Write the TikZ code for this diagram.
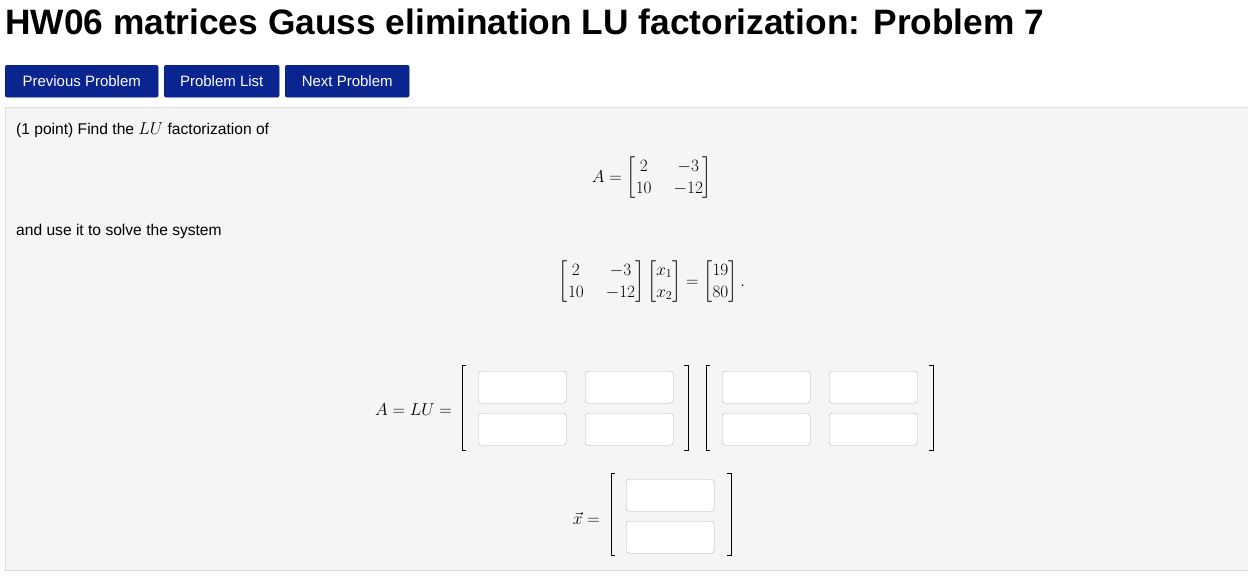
\documentclass[tikz,border=0pt]{standalone}
\usepackage{amsmath}
\usepackage{fontspec}
\setsansfont{Liberation Sans}
\definecolor{btn}{HTML}{0A2490}
\definecolor{panel}{HTML}{F5F5F5}
\definecolor{pborder}{HTML}{DDDDDD}
\definecolor{boxb}{HTML}{B5B5B5}
\tikzset{
 btnbox/.style={fill=btn,draw=btn!70!black,rounded corners=2pt,text=white,font=\sffamily\fontsize{15}{18}\selectfont,inner sep=0pt},
 ansbox/.style={draw=boxb,fill=white,rounded corners=3pt,minimum width=88pt,minimum height=32pt,inner sep=0pt},
 body/.style={font=\sffamily\fontsize{15.6}{18}\selectfont,anchor=base west,inner sep=0pt},
 mth/.style={font=\fontsize{17.5}{20}\selectfont\renewcommand\arraystretch{1.1}\setlength\arraycolsep{11pt},inner sep=0pt},
 brk/.style={line width=1pt}
}
\begin{document}
\begin{tikzpicture}[x=1pt,y=-1pt]
\useasboundingbox (0,0) rectangle (1248,579);
\fill[white] (0,0) rectangle (1248,579);
\node[anchor=base west,inner sep=0pt,font=\sffamily\bfseries\fontsize{35.3}{40}\selectfont] (title) at (5,34) {HW06 matrices Gauss elimination LU factorization: Problem 7};
\node[btnbox,minimum width=153pt,minimum height=32pt,anchor=north west] (prev) at (5,65) {Previous Problem};
\node[btnbox,minimum width=115pt,minimum height=32pt,anchor=north west] (list) at (164,65) {Problem List};
\node[btnbox,minimum width=124pt,minimum height=32pt,anchor=north west] (next) at (285,65) {Next Problem};
\draw[pborder,fill=panel] (5,107) rectangle (1250,570);
\node[body] (t1) at (16,134) {(1 point) Find the \rmfamily\fontsize{19}{20}\selectfont$LU$\sffamily\fontsize{15.6}{18}\selectfont{} factorization of};
\node[mth] (A) at (652,178) {$A=\begin{bmatrix}2 & -3\\ 10 & -12\end{bmatrix}$};
\node[body] (t2) at (16,235) {and use it to solve the system};
\node[mth] (sys) at (652,282) {$\begin{bmatrix}2 & -3\\ 10 & -12\end{bmatrix}\begin{bmatrix}x_1\\ x_2\end{bmatrix}=\begin{bmatrix}19\\ 80\end{bmatrix}.$};
\node[mth,anchor=east] (alu) at (452,410) {$A=LU=$};
\draw[brk] (466,365) -- (462,365) -- (462,450) -- (466,450);
\node[ansbox,anchor=north west] (l11) at (478,371) {};
\node[ansbox,anchor=north west] (l12) at (585,371) {};
\node[ansbox,anchor=north west] (l21) at (478,413) {};
\node[ansbox,anchor=north west] (l22) at (585,413) {};
\draw[brk] (684,365) -- (688,365) -- (688,450) -- (684,450);
\draw[brk] (710,365) -- (706,365) -- (706,450) -- (710,450);
\node[ansbox,anchor=north west] (u11) at (722,371) {};
\node[ansbox,anchor=north west] (u12) at (829,371) {};
\node[ansbox,anchor=north west] (u21) at (722,413) {};
\node[ansbox,anchor=north west] (u22) at (829,413) {};
\draw[brk] (929,365) -- (933,365) -- (933,450) -- (929,450);
\node[mth,anchor=east] (xl) at (600,518) {$\vec{x}=$};
\draw[brk] (615,473) -- (611,473) -- (611,555) -- (615,555);
\node[ansbox,anchor=north west] (x1) at (626,479) {};
\node[ansbox,anchor=north west] (x2) at (626,521) {};
\draw[brk] (727,473) -- (731,473) -- (731,555) -- (727,555);
\end{tikzpicture}
\end{document}
